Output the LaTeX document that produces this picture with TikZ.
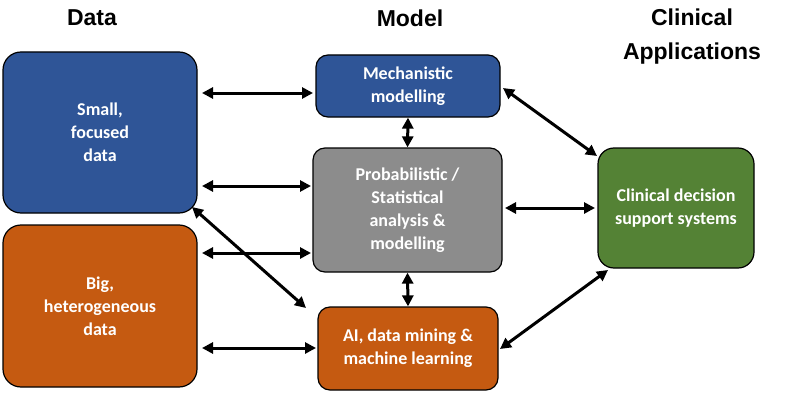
\documentclass[tikz,border=0pt]{standalone}
\usepackage{fontspec}
\setmainfont{Carlito}
\newfontfamily\hdr{Liberation Sans}
\usetikzlibrary{arrows.meta}
\definecolor{cblue}{HTML}{2F5597}
\definecolor{corange}{HTML}{C55A11}
\definecolor{cgray}{HTML}{8C8C8C}
\definecolor{cgreen}{HTML}{548235}
\begin{document}
\begin{tikzpicture}[x=1pt,y=-1pt,
 box/.style={draw=black,line width=1.2pt,rounded corners=12pt,text=white,font=\bfseries\fontsize{18}{23}\selectfont,align=center,inner sep=0pt},
 hd/.style={font=\hdr\bfseries\fontsize{23}{34}\selectfont,align=center},
 dbl/.style={{Triangle[length=11pt,width=11pt]}-{Triangle[length=11pt,width=11pt]},line width=3pt}]
\useasboundingbox (0,0) rectangle (787,404);
\node[hd] (h1) at (92,18) {Data};
\node[hd] (h2) at (410,18) {Model};
\node[hd] (h3) at (692,37) {Clinical\\Applications};
\node[box,fill=cblue,minimum width=194pt,minimum height=161pt,rounded corners=18pt] (small) at (100,132.5) {Small,\\focused\\data};
\node[box,fill=corange,minimum width=194pt,minimum height=162pt,rounded corners=18pt] (big) at (100,306) {Big,\\heterogeneous\\data};
\node[box,fill=cblue,minimum width=184pt,minimum height=62pt] (mech) at (408,86) {Mechanistic\\modelling};
\node[box,fill=cgray,minimum width=189pt,minimum height=124pt] (prob) at (407.5,210) {Probabilistic /\\Statistical\\analysis \&\\modelling};
\node[box,fill=corange,minimum width=180pt,minimum height=83pt] (ai) at (408,348.5) {AI, data mining \&\\machine learning};
\node[box,fill=cgreen,minimum width=156pt,minimum height=120pt,rounded corners=16pt] (cds) at (676,208) {Clinical decision\\support systems};
\coordinate (a1) at (202,93);   \coordinate (b1) at (313,93);
\coordinate (a2) at (202,186);  \coordinate (b2) at (311,186);
\coordinate (a3) at (202,253);  \coordinate (b3) at (311,253);
\coordinate (a4) at (202,348);  \coordinate (b4) at (316,348);
\coordinate (a5) at (192,207);  \coordinate (b5) at (306,308);
\coordinate (a6) at (503,88);   \coordinate (b6) at (597,156);
\coordinate (a7) at (505,208);  \coordinate (b7) at (595,208);
\coordinate (a8) at (500,349);  \coordinate (b8) at (608,270);
\draw[dbl] (a1) -- (b1);
\draw[dbl] (a2) -- (b2);
\draw[dbl] (a3) -- (b3);
\draw[dbl] (a4) -- (b4);
\draw[dbl] (a5) -- (b5);
\draw[dbl] (mech.south) -- (prob.north);
\draw[dbl] (prob.south) -- (ai.north);
\draw[dbl] (a6) -- (b6);
\draw[dbl] (a7) -- (b7);
\draw[dbl] (a8) -- (b8);
\end{tikzpicture}
\end{document}
